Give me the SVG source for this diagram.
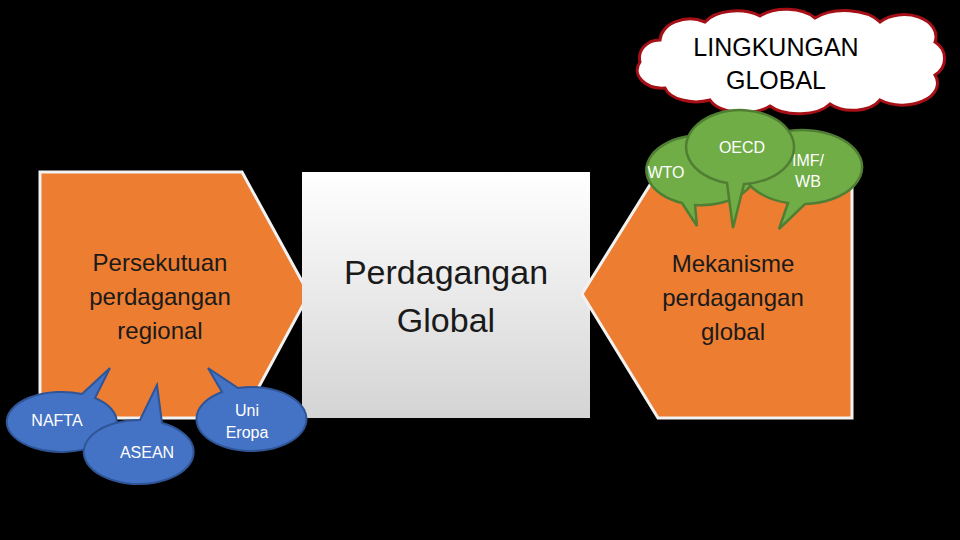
<svg xmlns="http://www.w3.org/2000/svg" width="960" height="540" viewBox="0 0 960 540">
<defs>
<linearGradient id="g" x1="0" y1="0" x2="0" y2="1"><stop offset="0" stop-color="#ffffff"/><stop offset="1" stop-color="#d4d4d4"/></linearGradient>
<style>
.t{font-family:"Liberation Sans",Arial,sans-serif;text-anchor:middle}
.big{font-size:24px;fill:#1a1a1a}
.blue{fill:#4472c4;stroke:#2f5597;stroke-width:2}
.green{fill:#70ad47;stroke:#507e32;stroke-width:2.5}
.w{fill:#ffffff;font-size:16px}
</style>
</defs>
<rect width="960" height="540" fill="#000"/>
<g id="regional">
<path d="M40,172 L242,172 L309,294 L242,418 L40,418 Z" fill="#ed7d31" stroke="#f2f2f2" stroke-width="3"/>
<text class="t big" x="160" y="271">Persekutuan</text>
<text class="t big" x="160" y="305">perdagangan</text>
<text class="t big" x="160" y="339">regional</text>
</g>
<g id="global">
<rect x="302" y="172" width="288" height="246" fill="url(#g)"/>
<text class="t" x="446" y="284" font-size="34" fill="#1a1a1a">Perdagangan</text>
<text class="t" x="446" y="332" font-size="34" fill="#1a1a1a">Global</text>
</g>
<g id="mekanisme">
<path d="M582,294 L658,172 L852,172 L852,418 L658,418 Z" fill="#ed7d31" stroke="#f2f2f2" stroke-width="3"/>
<text class="t big" x="733" y="272">Mekanisme</text>
<text class="t big" x="733" y="306">perdagangan</text>
<text class="t big" x="733" y="340">global</text>
</g>
<g id="cloud">
<path d="M660,40 A30,22 0 0 1 705,22 A35,20 0 0 1 760,16 A35,20 0 0 1 815,18 A40,22 0 0 1 880,22 A32,22 0 0 1 935,42 A22,20 0 0 1 935,75 A35,22 0 0 1 880,100 A30,18 0 0 1 830,104 A35,18 0 0 1 770,106 A35,18 0 0 1 710,100 A32,18 0 0 1 665,88 A25,18 0 0 1 640,62 A20,18 0 0 1 660,40 Z" fill="#fff" stroke="#a50f15" stroke-width="3"/>
<text class="t" x="776" y="56" font-size="25" fill="#000">LINGKUNGAN</text>
<text class="t" x="776" y="89" font-size="25" fill="#000">GLOBAL</text>
</g>
<g id="wto">
<path class="green" d="M682,203 L697,226 L695,205 A55,35 0 1 0 682,203 Z"/>
<text class="t w" x="666" y="178">WTO</text>
</g>
<g id="imf">
<path class="green" d="M788,203 L779,229 L805,204 A60,37 0 1 0 788,203 Z"/>
<text class="t w" x="808" y="166">IMF/</text>
<text class="t w" x="808" y="187">WB</text>
</g>
<g id="oecd">
<path class="green" d="M727,183 L733,228 L744,184 A54,37 0 1 0 727,183 Z"/>
<text class="t w" x="742" y="153">OECD</text>
</g>
<g id="nafta">
<path class="blue" d="M82,394 L110,368 L95,398 A55,30 0 1 1 82,394 Z"/>
<text class="t w" x="57" y="426">NAFTA</text>
</g>
<g id="asean">
<path class="blue" d="M140,420 L157,385 L162,423 A55,32 0 1 1 140,420 Z"/>
<text class="t w" x="147" y="458">ASEAN</text>
</g>
<g id="unieropa">
<path class="blue" d="M222,392 L208,368 L238,388 A55,32 0 1 1 222,392 Z"/>
<text class="t w" x="247" y="416">Uni</text>
<text class="t w" x="247" y="438">Eropa</text>
</g>
<g id="connectors"/>
</svg>
